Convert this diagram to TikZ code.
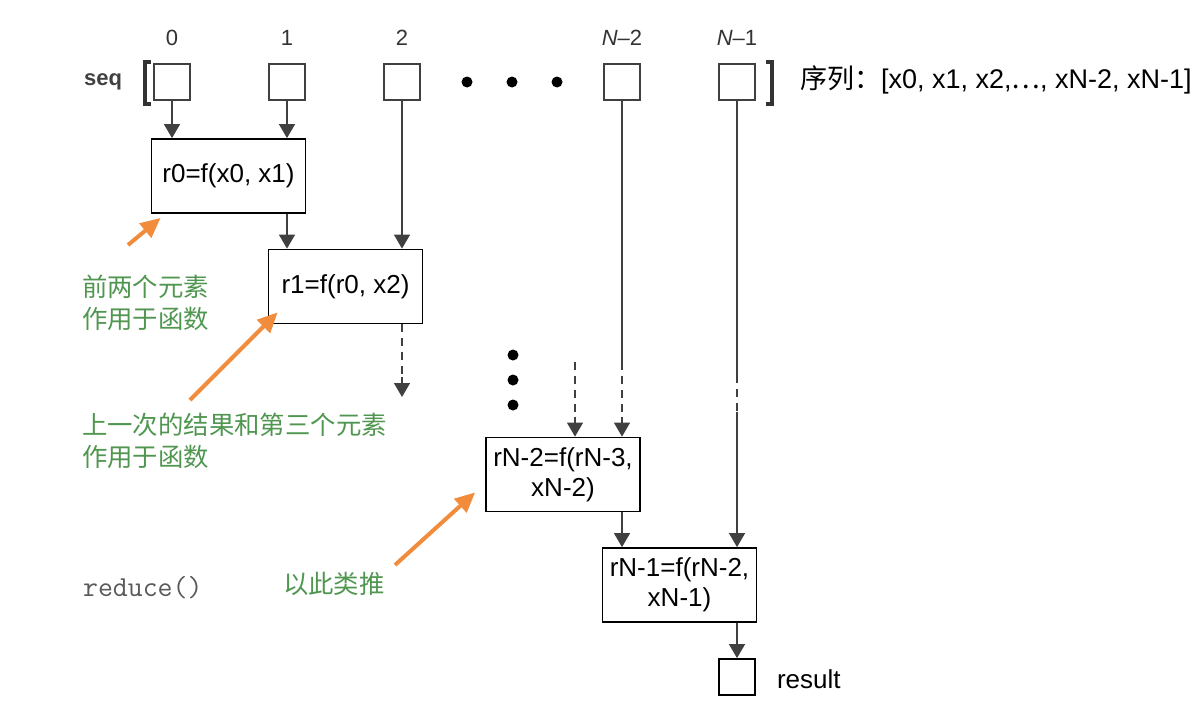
\documentclass[tikz,border=0pt]{standalone}
\usepackage{fontspec}
\setmainfont{Liberation Sans}
\newfontfamily\cjk{Noto Sans CJK SC}
\usetikzlibrary{arrows.meta}
\begin{document}
\begin{tikzpicture}[x=0.5pt,y=-0.5pt,
 sq/.style={draw=black!75,line width=0.9pt,minimum size=18pt,inner sep=0},
 fb/.style={draw,line width=0.9pt,minimum width=77pt,minimum height=37pt,align=center,inner sep=1pt,font=\fontsize{13}{15}\selectfont},
 ar/.style={draw=black!75,line width=0.7pt,-{Triangle[length=7pt,width=8pt]}},
 ln/.style={draw=black!75,line width=0.7pt},
 dsh/.style={draw=black!75,line width=0.7pt,dash pattern=on 4pt off 3pt},
 oa/.style={draw={rgb,255:red,240;green,140;blue,60},line width=2pt,-{Triangle[length=10pt,width=9pt]}},
 gt/.style={text={rgb,255:red,80;green,150;blue,80},font=\cjk\fontsize{12.7}{16}\selectfont,align=left,anchor=west},
 idx/.style={font=\fontsize{11}{12}\selectfont,text=black!80}]
\useasboundingbox (0,0) rectangle (1197,723);
\node[sq] (s0) at (172,82) {};
\node[sq] (s1) at (287,82) {};
\node[sq] (s2) at (402,82) {};
\node[sq] (s3) at (622,82) {};
\node[sq] (s4) at (737,82) {};
\node[idx] (l0) at (172,38) {0};
\node[idx] (l1) at (287,38) {1};
\node[idx] (l2) at (402,38) {2};
\node[idx] (l3) at (622,38) {\textit{N}–2};
\node[idx] (l4) at (737,38) {\textit{N}–1};
\node[font=\bfseries\fontsize{11}{12}\selectfont,text=black!75] (seq) at (103,82) {seq};
\draw[black!80,line width=2pt] (151,62) -- (145,62) -- (145,104) -- (151,104);
\draw[black!80,line width=2pt] (766,62) -- (772,62) -- (772,104) -- (766,104);
\foreach \x/\n in {467/a,512/b,557/c} \fill (\x,82) circle (5.5);
\foreach \y in {355,380,405} \fill (513,\y) circle (5.5);
\node[anchor=west,font=\fontsize{13.5}{15}\selectfont] (sl) at (793,80) {{\cjk 序列：}[x0, x1, x2,{\cjk ⋯}, xN-2, xN-1]};
\node[fb] (r0) at (228.5,176) {r0=f(x0, x1)};
\node[fb] (r1) at (345.5,286.5) {r1=f(r0, x2)};
\node[fb] (r2) at (563,474.5) {rN-2=f(rN-3,\\xN-2)};
\node[fb] (r3) at (679.5,585) {rN-1=f(rN-2,\\xN-1)};
\node[sq,draw=black] (res) at (737,677) {};
\node[anchor=west,font=\fontsize{13}{15}\selectfont] (rt) at (770,679) {result};
\draw[ar] (s0) -- (s0 |- r0.north);
\draw[ar] (s1) -- (s1 |- r0.north);
\draw[ar] (s1 |- r0.south) -- (s1 |- r1.north);
\draw[ar] (s2) -- (s2 |- r1.north);
\coordinate (d2) at (402,397);
\draw[dsh] (s2 |- r1.south) -- ([yshift=8]d2);
\draw[ar] ([yshift=10]d2) -- (d2);
\coordinate (d1) at (575,362);
\draw[dsh] (d1) -- ([yshift=8]d1 |- r2.north);
\draw[ar] ([yshift=10]d1 |- r2.north) -- (d1 |- r2.north);
\coordinate (m3) at (622,362);
\draw[ln] (s3) -- (m3);
\draw[dsh] (m3) -- ([yshift=8]m3 |- r2.north);
\draw[ar] ([yshift=10]m3 |- r2.north) -- (m3 |- r2.north);
\coordinate (m4a) at (737,375);
\coordinate (m4b) at (737,412);
\draw[ln] (s4) -- (m4a);
\draw[dsh] (m4a) -- (m4b);
\draw[ar] (m4b) -- (m4b |- r3.north);
\draw[ar] (r2.south -| m3) -- (m3 |- r3.north);
\draw[ar] (r3.south -| res) -- (res);
\node[gt] (g1) at (75,303) {前两个元素\\作用于函数};
\node[gt] (g2) at (75,441) {上一次的结果和第三个元素\\作用于函数};
\node[gt] (g3) at (276,584) {以此类推};
\node[anchor=west,font=\ttfamily\fontsize{14.5}{16}\selectfont,text=black!65] (rd) at (76,588) {reduce()};
\coordinate (o1) at (128,245);
\coordinate (o2) at (190,400);
\coordinate (o3) at (395,565);
\draw[oa] (o1) -- ([shift={(10,4)}]r0.south west);
\draw[oa] (o2) -- ([shift={(10,-12)}]r1.south west);
\draw[oa] (o3) -- ([shift={(-10,-20)}]r2.south west);
\end{tikzpicture}
\end{document}
